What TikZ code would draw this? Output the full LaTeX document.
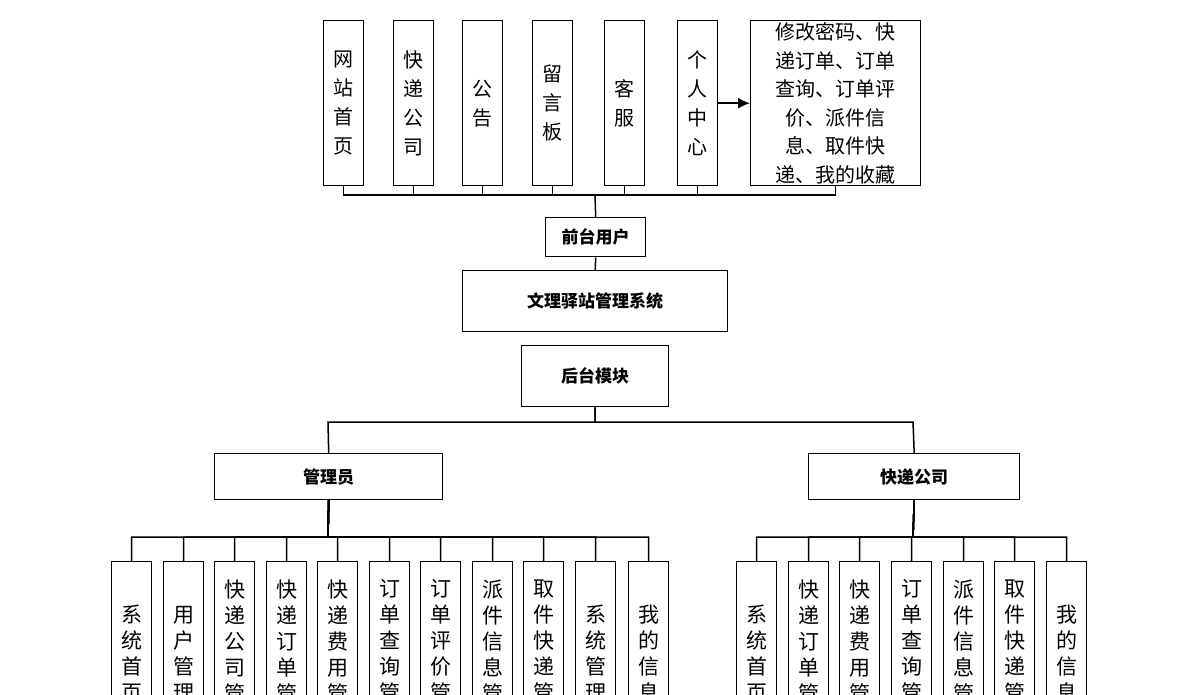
\documentclass[tikz,border=0pt]{standalone}
\usepackage{fontspec}
\usetikzlibrary{arrows.meta}
\setmainfont{Noto Sans CJK SC}
\begin{document}
\begin{tikzpicture}[x=1pt,y=-1pt,
    box/.style={draw, line width=1.4pt, inner sep=0pt, anchor=north west},
    vbox/.style={box, minimum width=40pt, minimum height=165pt, align=center, font=\fontsize{20}{29}\selectfont},
    sbox/.style={box, minimum width=40pt, minimum height=184pt, align=center, font=\fontsize{21}{26}\selectfont},
    lbl/.style={box, font=\fontsize{17}{20}\selectfont\bfseries},
    line/.style={line width=1.5pt}]
  \useasboundingbox (0,0) rectangle (1199,694);
  \clip (0,0) rectangle (1199,694);

  % front end modules
  \node[vbox] (t1) at (323,20) {网\\站\\首\\页};
  \node[vbox] (t2) at (393,20) {快\\递\\公\\司};
  \node[vbox] (t3) at (462,20) {公\\告};
  \node[vbox] (t4) at (532,20) {留\\言\\板};
  \node[vbox] (t5) at (604,20) {客\\服};
  \node[vbox] (t6) at (677,20) {个\\人\\中\\心};
  \node[vbox, minimum width=170pt, font=\fontsize{20}{28.5}\selectfont] (t7) at (750,20)
    {修改密码、快\\递订单、订单\\查询、订单评\\价、派件信\\息、取件快\\递、我的收藏};
  \draw[line, -{Latex[length=12pt,width=11pt]}] (t6.east) -- (t7.west);

  % main column
  \node[lbl, minimum width=100pt, minimum height=39pt] (front) at (545,217) {前台用户};
  \node[lbl, minimum width=265pt, minimum height=61pt] (sys) at (462,270) {文理驿站管理系统};
  \node[lbl, minimum width=147pt, minimum height=61pt] (back) at (521,345) {后台模块};
  \node[lbl, minimum width=228pt, minimum height=46pt] (admin) at (214,453) {管理员};
  \node[lbl, minimum width=211pt, minimum height=46pt] (comp) at (808,453) {快递公司};

  \coordinate (busT) at (595,195);
  \foreach \n in {t1,t2,t3,t4,t5,t6,t7}
    \draw[line] (\n.south) |- (busT);
  \draw[line] (busT) -- (front.north);
  \draw[line] (front.south) -- (sys.north);
  \draw[line] (back.south) |- (328,422) -- (admin.north);
  \draw[line] (back.south) |- (913,422) -- (comp.north);

  % admin modules
  \foreach \x/\t [count=\i] in {111/系\\统\\首\\页, 163/用\\户\\管\\理, 214/快\\递\\公\\司\\管\\理,
      266/快\\递\\订\\单\\管\\理, 317/快\\递\\费\\用\\管\\理, 369/订\\单\\查\\询\\管\\理,
      420/订\\单\\评\\价\\管\\理, 472/派\\件\\信\\息\\管\\理, 523/取\\件\\快\\递\\管\\理,
      575/系\\统\\管\\理, 628/我\\的\\信\\息}{
    \node[sbox] (a\i) at (\x,561) {\t};
    \draw[line] (a\i.north) |- (328,537) -- (admin.south);
  }

  % courier modules
  \foreach \x/\t [count=\i] in {736/系\\统\\首\\页, 788/快\\递\\订\\单\\管\\理, 839/快\\递\\费\\用\\管\\理,
      891/订\\单\\查\\询\\管\\理, 943/派\\件\\信\\息\\管\\理, 994/取\\件\\快\\递\\管\\理,
      1046/我\\的\\信\\息}{
    \node[sbox] (c\i) at (\x,561) {\t};
    \draw[line] (c\i.north) |- (913,537) -- (comp.south);
  }
\end{tikzpicture}
\end{document}
